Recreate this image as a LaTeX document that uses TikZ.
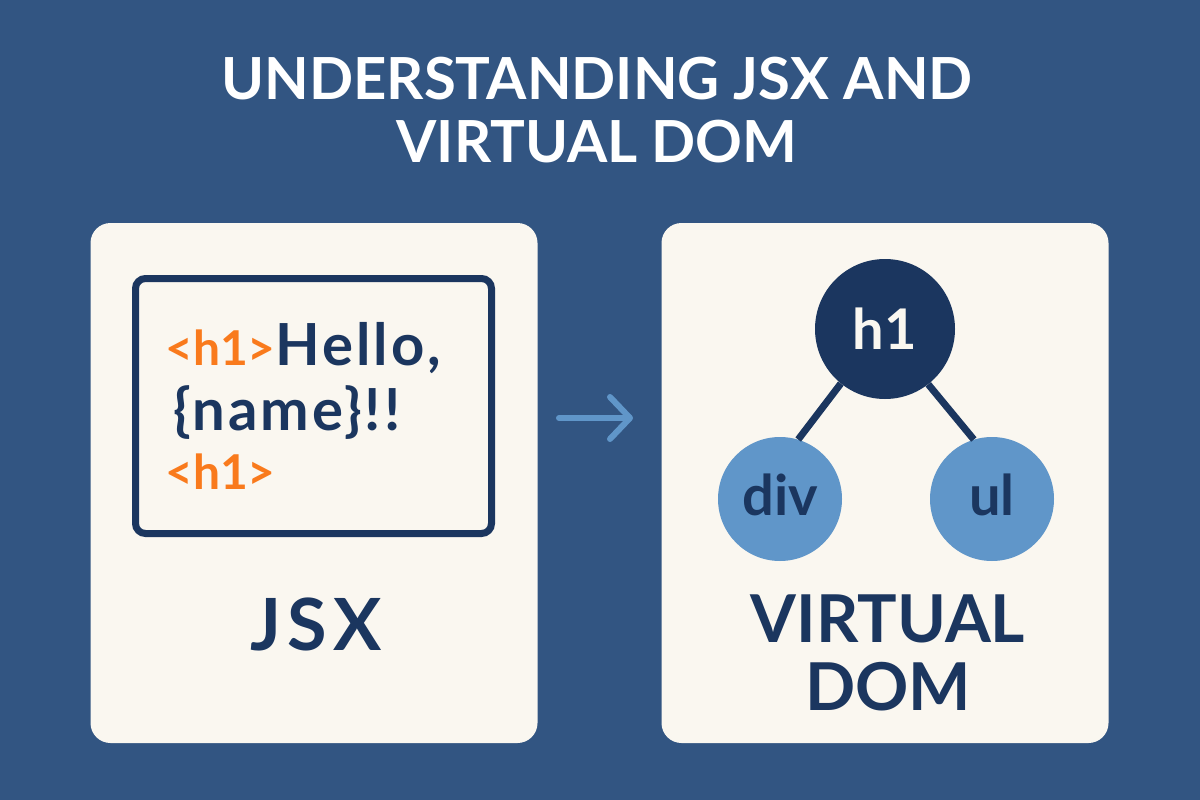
\documentclass[tikz,border=0pt]{standalone}
\usepackage[HTML]{xcolor}
\usepackage{fontspec}
\setmainfont{Lato}
\newfontfamily\codefont[LetterSpace=5]{Lato}
\newfontfamily\widefont[LetterSpace=9]{Lato}
\usetikzlibrary{positioning, arrows.meta}
\definecolor{bgblue}{HTML}{325582}
\definecolor{cardcream}{HTML}{FAF7F0}
\definecolor{navy}{HTML}{1B365F}
\definecolor{midblue}{HTML}{6096C9}
\definecolor{tagorange}{HTML}{F97A1C}
\tikzset{
  card/.style={fill=cardcream, rounded corners=20pt},
  title/.style={text=white, font=\fontsize{58}{63}\selectfont\bfseries, align=center},
  caption/.style={text=navy, font=\fontsize{66}{68}\selectfont\bfseries, align=center},
  code/.style={text=navy, font=\codefont\fontsize{58}{58}\selectfont\bfseries, anchor=base west, inner sep=0pt},
  parent/.style={circle, fill=navy, text=cardcream, minimum size=140pt, inner sep=0pt, font=\fontsize{56}{56}\selectfont\bfseries},
  child/.style={circle, fill=midblue, text=navy, minimum size=124pt, inner sep=0pt, text depth=8pt, font=\fontsize{56}{56}\selectfont\bfseries},
  link/.style={draw=navy, line width=7pt}
}
\newcommand{\tagc}[1]{\textcolor{tagorange}{\fontsize{48}{48}\selectfont\normalfont\bfseries #1}}
\begin{document}
\begin{tikzpicture}[x=1pt, y=-1pt]
\useasboundingbox (0,0) rectangle (1200,800);
\fill[bgblue] (0,0) rectangle (1200,800);
\node[title] (heading) at (597,110) {UNDERSTANDING JSX AND\\VIRTUAL DOM};

\node[card, minimum width=447pt, minimum height=520pt] (jsxcard) at (314,483) {};
\node[card, minimum width=447pt, minimum height=520pt] (vdomcard) at (885,483) {};

% code window
\node[draw=navy, line width=7pt, rounded corners=10pt, minimum width=356pt, minimum height=255pt] (window) at (313.5,406) {};
\node[code] (line1) at (165,365) {\tagc{<h1>}Hello,};
\node[code] (line2) at (173,430) {\{name\}!!};
\node[code] (line3) at (165,489) {\tagc{<h1>}};
\node[caption] (jsxlabel) at (316,624) {\widefont\fontsize{72}{72}\selectfont\bfseries JSX};

\coordinate (arrowstart) at (559,418);
\coordinate (arrowend) at (633,418);
\draw[draw=midblue, line width=6pt, line cap=round, -{Straight Barb[round, length=20pt, width=42pt]}] (arrowstart) -- (arrowend);

% tree
\node[parent] (h1) at (885,329) {h1};
\node[child] (div) at (780,499) {div};
\node[child] (ul) at (992,499) {ul};
\draw[link] (h1.231) -- (div.73);
\draw[link] (h1.308) -- (ul.107);
\node[caption] (vdomlabel) at (888,653) {VIRTUAL\\DOM};
\end{tikzpicture}
\end{document}
